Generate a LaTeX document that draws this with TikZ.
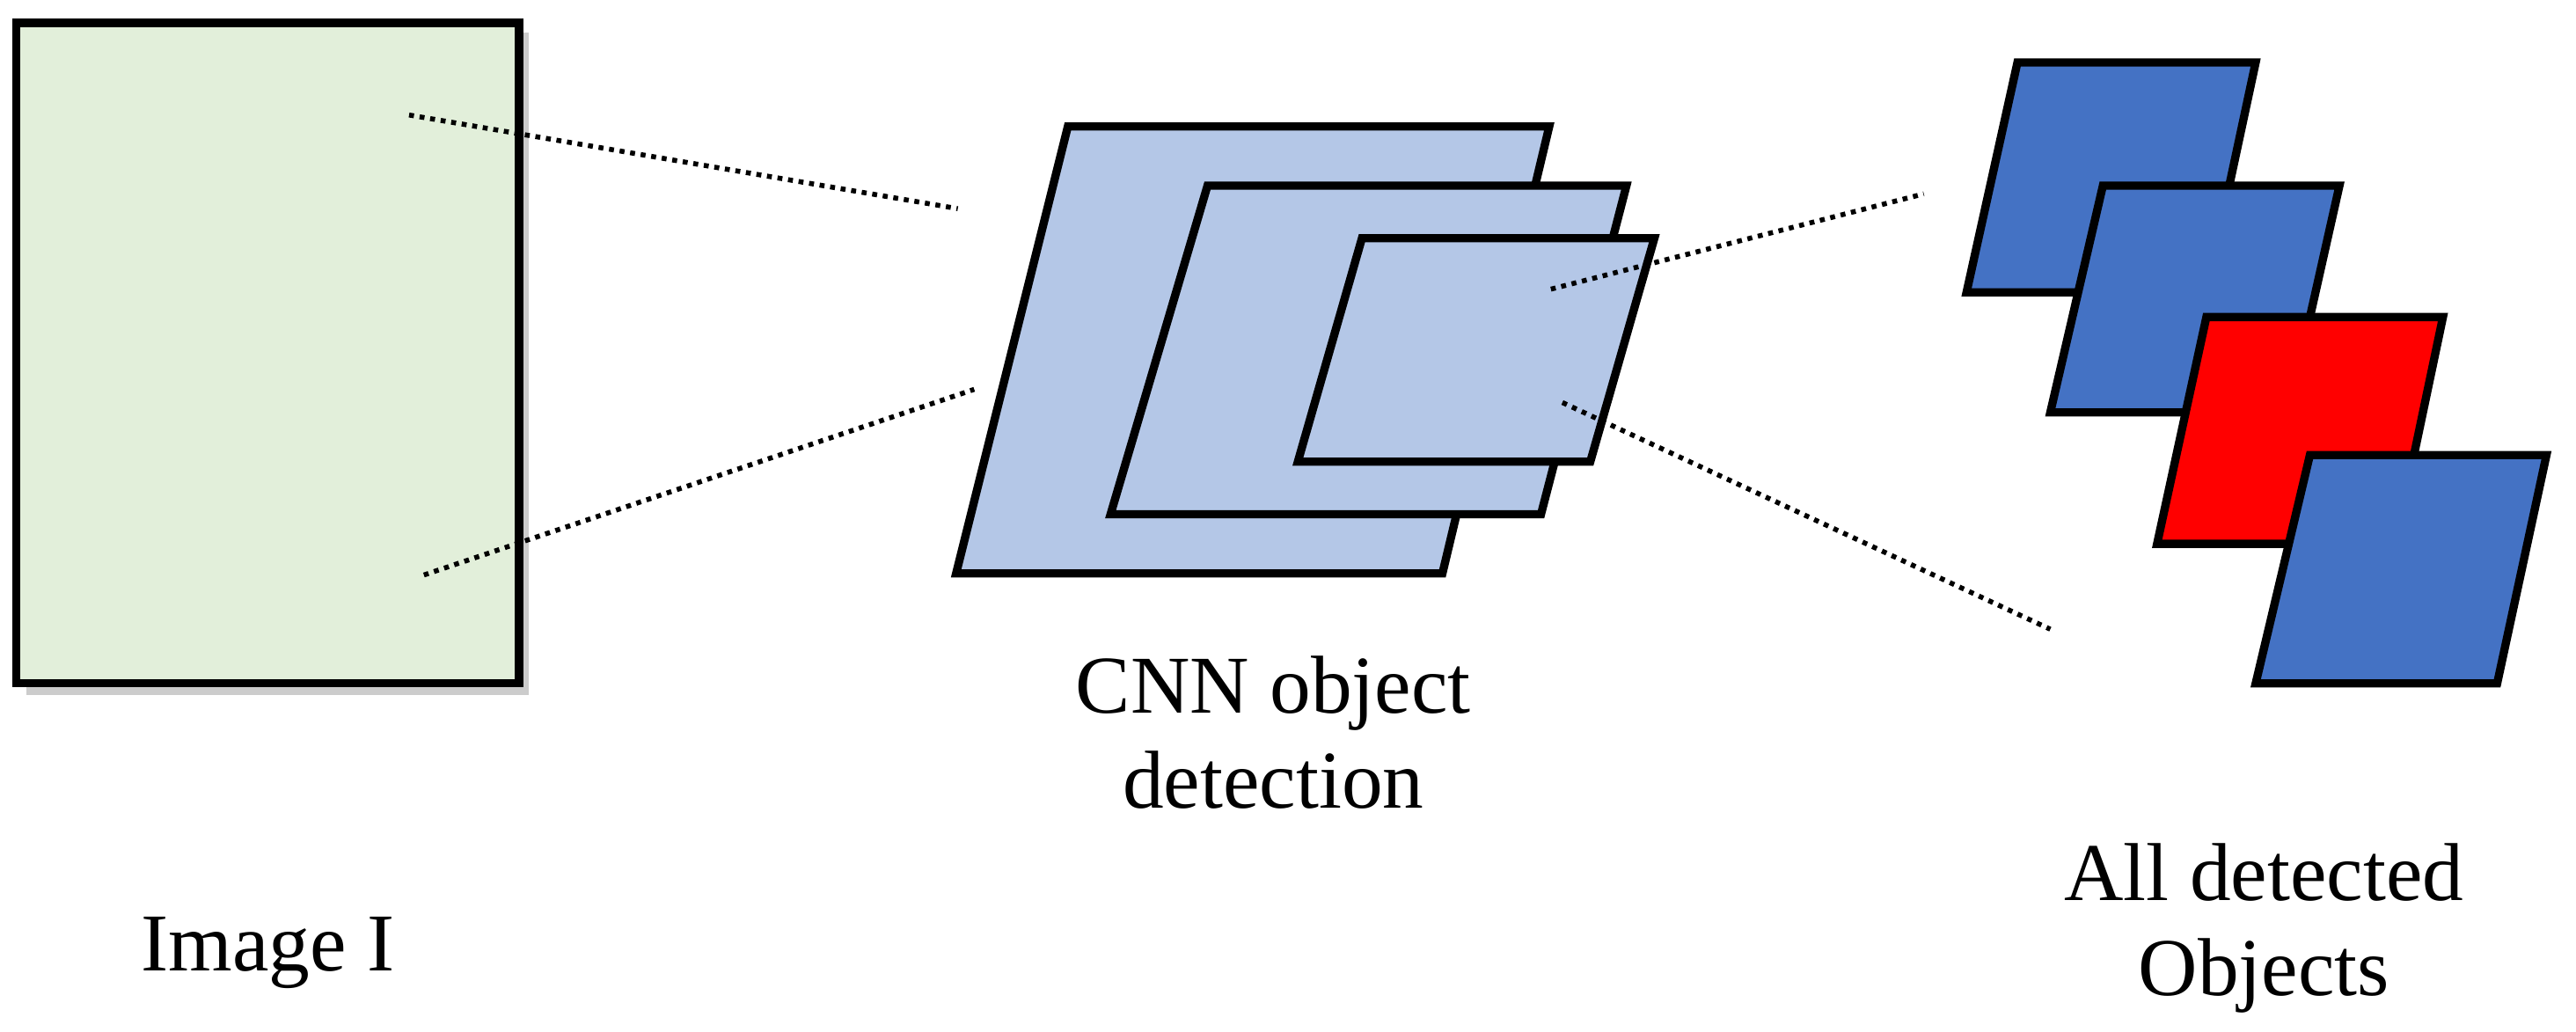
\documentclass[tikz,border=0pt]{standalone}
\usepackage{fontspec}
\setmainfont{Liberation Serif}
\definecolor{gfill}{HTML}{E2EFDA}
\definecolor{lfill}{HTML}{B4C7E7}
\definecolor{bfill}{HTML}{4472C4}
\tikzset{box/.style={draw=black,line width=5pt,line join=miter},
 dots/.style={line width=3pt,dash pattern=on 3pt off 3.5pt},
 lbl/.style={font=\fontsize{50}{58}\selectfont,align=center}}
\begin{document}
\begin{tikzpicture}[x=1pt,y=-1pt]
\useasboundingbox (0,0) rectangle (1568,628);
\fill[black!40,opacity=0.5] (16,20) rectangle (322,423);
\draw[box,fill=gfill] (10,14) rectangle (316,416);
\coordinate (i1) at (249,70); \coordinate (i2) at (258,350);
\draw[box,fill=lfill] (650,77) -- (943,77) -- (878,349) -- (582,349) -- cycle;
\draw[box,fill=lfill] (735,113) -- (990,113) -- (938,313) -- (676,313) -- cycle;
\draw[box,fill=lfill] (829,145) -- (1007,145) -- (968,281) -- (790,281) -- cycle;
\coordinate (c1) at (583,127); \coordinate (c2) at (593,237);
\coordinate (c3) at (944,176); \coordinate (c4) at (951,245);
\draw[box,fill=bfill] (1228,38) -- (1373,38) -- (1343,178) -- (1197,178) -- cycle;
\draw[box,fill=bfill] (1280,113) -- (1424,113) -- (1393,251) -- (1248,251) -- cycle;
\draw[box,fill=red] (1343,193) -- (1487,193) -- (1458,331) -- (1313,331) -- cycle;
\draw[box,fill=bfill] (1406,277) -- (1550,277) -- (1520,416) -- (1373,416) -- cycle;
\coordinate (o1) at (1171,118); \coordinate (o2) at (1248,383);
\draw[dots] (i1) -- (c1);
\draw[dots] (i2) -- (c2);
\draw[dots] (c3) -- (o1);
\draw[dots] (c4) -- (o2);
\node[lbl] (t1) at (163,580) {Image I};
\node[lbl] (t2) at (775,446) {CNN object\\detection};
\node[lbl] (t3) at (1378,565) {All detected\\Objects};
\end{tikzpicture}
\end{document}
